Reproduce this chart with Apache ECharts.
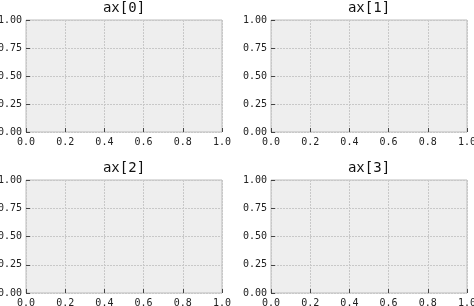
<!DOCTYPE html>
<html>
<head>
<meta charset="utf-8">
<script src="https://cdn.jsdelivr.net/npm/echarts@6/dist/echarts.min.js"></script>
<style>
html,body{margin:0;padding:0;background:#fff;}
#chart{width:474px;height:306px;}
</style>
</head>
<body>
<div id="chart"></div>
<script>
// Subplot titles
const titles = ['ax[0]', 'ax[1]', 'ax[2]', 'ax[3]'];
const xTickLabels = ['0.0', '0.2', '0.4', '0.6', '0.8', '1.0'];
const yTickLabels = ['0.00', '0.25', '0.50', '0.75', '1.00'];
const xMin = 0, xMax = 1, xStep = 0.2;
const yMin = 0, yMax = 1, yStep = 0.25;
// Each subplot has no data series
const seriesData = [[], [], [], []];

const FONT = 'DejaVu Sans Mono';
const panels = [
  {left: 26, top: 20, width: 196, height: 112},
  {left: 271, top: 20, width: 196, height: 112},
  {left: 26, top: 180, width: 196, height: 113},
  {left: 271, top: 180, width: 196, height: 113}
];

const chart = echarts.init(document.getElementById('chart'), null, {renderer: 'canvas'});
const option = {
  animation: false,
  backgroundColor: '#ffffff',
  title: panels.map((p, i) => ({
    text: titles[i],
    left: p.left + p.width / 2,
    top: p.top - 20,
    padding: 0,
    textAlign: 'center',
    textStyle: {fontFamily: FONT, fontSize: 14, fontWeight: 'normal', color: '#111', lineHeight: 16}
  })),
  grid: panels.map(p => ({
    left: p.left, top: p.top, width: p.width, height: p.height,
    show: true, backgroundColor: '#eeeeee', borderColor: '#bcbcbc', borderWidth: 1,
    containLabel: false, outerBoundsMode: 'none'
  })),
  xAxis: panels.map((p, i) => ({
    type: 'value', gridIndex: i, min: xMin, max: xMax, interval: xStep,
    axisLine: {show: false},
    axisTick: {show: true, inside: true, length: 4, lineStyle: {color: '#444', width: 1}},
    axisLabel: {
      margin: 5, fontFamily: FONT, fontSize: 10, color: '#222',
      formatter: v => xTickLabels[Math.round((v - xMin) / xStep)]
    },
    splitLine: {show: true, lineStyle: {color: '#c8c8c8', width: 1, type: [2, 1]}}
  })),
  yAxis: panels.map((p, i) => ({
    type: 'value', gridIndex: i, min: yMin, max: yMax, interval: yStep,
    axisLine: {show: false},
    axisTick: {show: true, inside: true, length: 4, lineStyle: {color: '#444', width: 1}},
    axisLabel: {
      margin: 4, fontFamily: FONT, fontSize: 10, color: '#222',
      formatter: v => yTickLabels[Math.round((v - yMin) / yStep)]
    },
    splitLine: {show: true, lineStyle: {color: '#c8c8c8', width: 1, type: [2, 1]}}
  })),
  series: seriesData.map((d, i) => ({
    type: 'line', xAxisIndex: i, yAxisIndex: i, data: d
  }))
};
chart.setOption(option);
</script>
</body>
</html>
